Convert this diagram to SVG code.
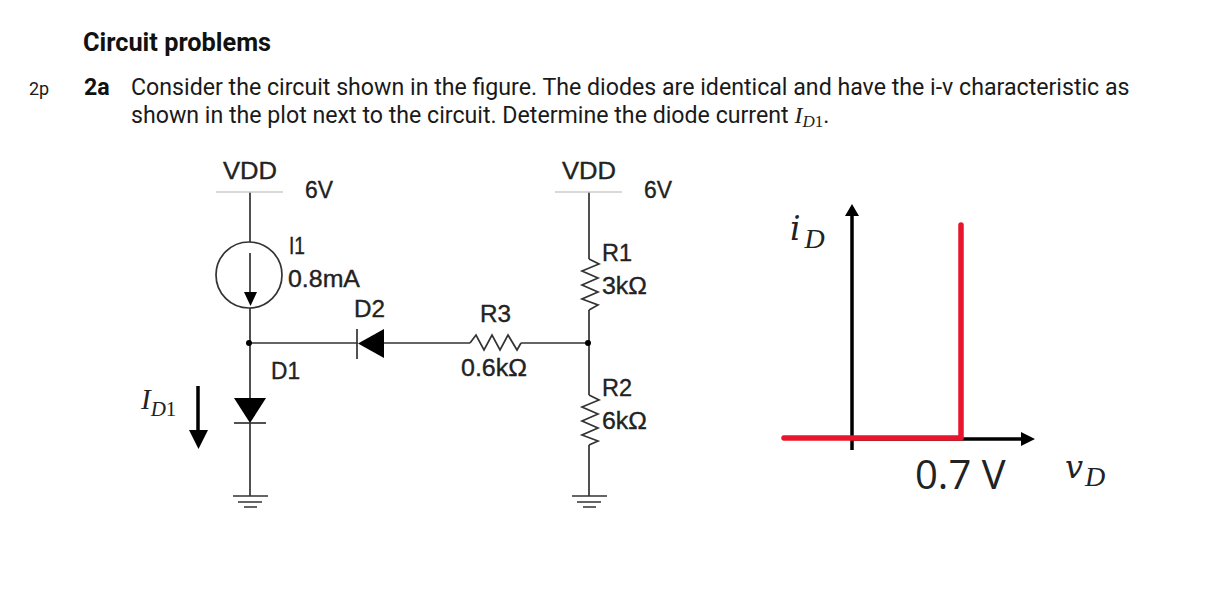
<svg xmlns="http://www.w3.org/2000/svg" width="1211" height="593" viewBox="0 0 1211 593">
<style>
text{font-family:Roboto,"Liberation Sans",sans-serif;fill:#1a1a1a}
.t{font-size:23.17px}
.h{font-size:25.3px}
.b{font-weight:700;fill:#111}
.c{font-family:"Liberation Sans",Arial,sans-serif;font-size:23px;fill:#222;stroke:#222;stroke-width:.35}
.m{font-family:"Liberation Serif",serif;font-style:italic;fill:#222}
.d{font-family:"DejaVu Serif",serif;font-style:italic;fill:#222}
.w{fill:none;stroke:#333;stroke-width:1.7}
.k{fill:#000;stroke:none}
.g{stroke:#ccc;stroke-width:1.7}
</style>
<rect width="1211" height="593" fill="#fff"/>
<g id="heading">
<text class="h b" x="83" y="50.500">Circuit problems</text>
<text x="29" y="95" style="font-size:18px">2p</text>
<text class="t b" x="84" y="94.500">2a</text>
<text class="t" x="131" y="94.500">Consider the circuit shown in the figure. The diodes are identical and have the i-v characteristic as</text>
<text class="t" x="131" y="122.500">shown in the plot next to the circuit. Determine the diode current <tspan class="m" style="font-size:24px">I</tspan><tspan class="m" dy="4" style="font-size:17px">D</tspan><tspan class="m" style="font-size:17px;font-style:normal">1</tspan><tspan dy="-4">.</tspan></text>
</g>
<g id="connectors">
<path class="w" d="M250 192V242M250 308V398M250 423V496M249 343H358M384 343H470M521 343H589M589 192V259M589 310V395M589 445V496"/>
</g>
<g id="vdd1"><path class="g" d="M216 192H283"/><text class="c" x="223" y="179" textLength="54" lengthAdjust="spacingAndGlyphs">VDD</text><text class="c" x="305" y="198" textLength="28" lengthAdjust="spacingAndGlyphs">6V</text></g>
<g id="vdd2"><path class="g" d="M555 192H622"/><text class="c" x="562" y="179" textLength="54" lengthAdjust="spacingAndGlyphs">VDD</text><text class="c" x="644" y="198" textLength="28" lengthAdjust="spacingAndGlyphs">6V</text></g>
<g id="i1">
<circle class="w" cx="249" cy="275" r="33"/>
<path class="w" d="M250 253V296"/><path class="k" d="M244 292H257L250.500 306Z"/>
<text class="c" x="289" y="254" textLength="16" lengthAdjust="spacingAndGlyphs">I1</text><text class="c" x="288" y="287" textLength="72" lengthAdjust="spacingAndGlyphs">0.8mA</text>
</g>
<g id="d2">
<path class="w" d="M357 329V359"/><path class="k" d="M358 343.500L384 329V358Z"/>
<text class="c" x="354" y="317" textLength="31" lengthAdjust="spacingAndGlyphs">D2</text>
</g>
<g id="d1">
<path class="w" d="M234 423H266"/><path class="k" d="M234 398H266L250 423Z"/>
<text class="c" x="271" y="379" textLength="29" lengthAdjust="spacingAndGlyphs">D1</text>
</g>
<g id="r3">
<path class="w" d="M470 343L476 335L484 350L492 335L500 350L508 335L517 350L521 343"/>
<text class="c" x="480" y="322" textLength="31" lengthAdjust="spacingAndGlyphs">R3</text><text class="c" x="461" y="376" textLength="66" lengthAdjust="spacingAndGlyphs">0.6kΩ</text>
</g>
<g id="r1">
<path class="w" d="M589 259L599 264L582 271L598 278L582 285L598 292L582 299L598 305L589 310"/>
<text class="c" x="602" y="261" textLength="30" lengthAdjust="spacingAndGlyphs">R1</text><text class="c" x="602" y="294" textLength="45" lengthAdjust="spacingAndGlyphs">3kΩ</text>
</g>
<g id="r2">
<path class="w" d="M589 395L599 400L582 407L598 414L582 421L598 428L582 435L598 441L589 445"/>
<text class="c" x="602" y="396" textLength="30" lengthAdjust="spacingAndGlyphs">R2</text><text class="c" x="602" y="429" textLength="45" lengthAdjust="spacingAndGlyphs">6kΩ</text>
</g>
<g id="junctions"><circle class="k" cx="249" cy="343" r="3"/><circle class="k" cx="588" cy="343" r="3"/></g>
<g id="gnd1"><path class="w" d="M233 496H268M238 502H262M244 507H257"/></g>
<g id="gnd2"><path class="w" d="M572 496H607M577 502H601M583 507H596"/></g>
<g id="id1-label">
<text class="m" x="141" y="409" style="font-size:29px">I<tspan dy="7" style="font-size:21px">D</tspan><tspan style="font-size:21px;font-style:normal">1</tspan></text>
<path d="M198 386V432" stroke="#000" stroke-width="3.500"/><path class="k" d="M189 430H208L198.500 449Z"/>
</g>
<g id="plot">
<path d="M852 214V450M852 439H1022" stroke="#000" stroke-width="3.500" fill="none"/>
<path class="k" d="M852 204L859 216H845ZM1035 439L1021 432V446Z"/>
<path d="M784 438H961V225" fill="none" stroke="#e8162c" stroke-width="5.500" stroke-linecap="round" stroke-linejoin="round"/>
<text class="d" x="790" y="240" style="font-size:33px">i<tspan class="m" dx="4" dy="8" style="font-size:28px">D</tspan></text>
<text x="915" y="489" style="font-family:'Open Sans','Liberation Sans',sans-serif;font-size:40px;fill:#222">0.7 V</text>
<text class="d" x="1065" y="478" style="font-size:32px">v<tspan class="m" dx="2" dy="8" style="font-size:28px">D</tspan></text>
</g>
</svg>
